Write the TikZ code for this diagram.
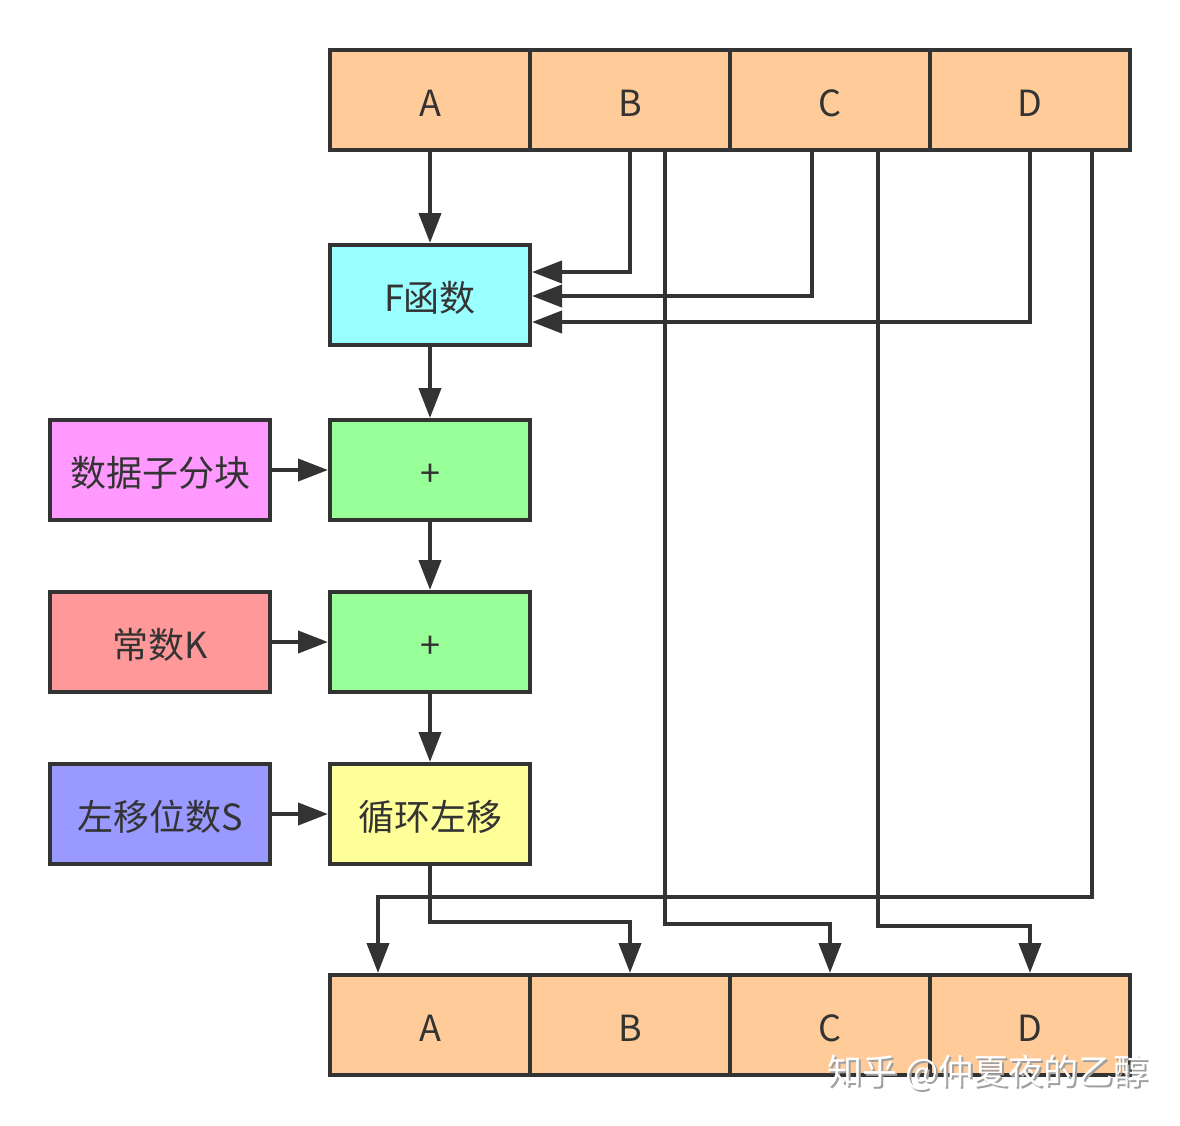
\documentclass[tikz,border=0pt]{standalone}
\usepackage{fontspec}
\setmainfont{Noto Sans CJK SC}
\usetikzlibrary{arrows.meta}
\definecolor{ln}{HTML}{333333}
\definecolor{cOrange}{HTML}{FFCC99}
\definecolor{cCyan}{HTML}{99FFFF}
\definecolor{cGreen}{HTML}{99FF99}
\definecolor{cPink}{HTML}{FF99FF}
\definecolor{cRed}{HTML}{FF9999}
\definecolor{cBlue}{HTML}{9999FF}
\definecolor{cYellow}{HTML}{FFFF99}
\definecolor{wmgray}{HTML}{A0A0A0}
\begin{document}
\begin{tikzpicture}[x=0.5pt,y=-0.5pt,
  box/.style={draw=ln, line width=2pt, minimum width=100pt, minimum height=50pt,
    inner sep=0pt, text=ln, font=\fontsize{18}{20}\selectfont,
    text height=16.4pt, text depth=0pt},
  widebox/.style={box, minimum width=110pt},
  conn/.style={draw=ln, line width=2pt, -{Triangle[length=15pt,width=11pt]}},
  wmtext/.style={font=\fontsize{17.5}{20}\selectfont, inner sep=0pt}
]
\useasboundingbox (0,0) rectangle (1180,1126);
\fill[white] (0,0) rectangle (1180,1126);

% top row
\node[box, fill=cOrange] (tA) at (430,100) {A};
\node[box, fill=cOrange] (tB) at (630,100) {B};
\node[box, fill=cOrange] (tC) at (830,100) {C};
\node[box, fill=cOrange] (tD) at (1030,100) {D};

% middle column
\node[box, fill=cCyan] (F) at (430,295) {F函数};
\node[box, fill=cGreen] (p1) at (430,470) {+};
\node[box, fill=cGreen] (p2) at (430,642) {+};
\node[box, fill=cYellow] (rot) at (430,814) {循环左移};

% left inputs
\node[widebox, fill=cPink] (dsb) at (160,470) {数据子分块};
\node[widebox, fill=cRed] (ck) at (160,642) {常数K};
\node[widebox, fill=cBlue] (ls) at (160,814) {左移位数S};

% bottom row
\node[box, fill=cOrange] (bA) at (430,1025) {A};
\node[box, fill=cOrange] (bB) at (630,1025) {B};
\node[box, fill=cOrange] (bC) at (830,1025) {C};
\node[box, fill=cOrange] (bD) at (1030,1025) {D};

% connectors into F
\draw[conn] (tA) -- (F);
\draw[conn] (tB.south) |- ([yshift=11.5pt]F.east);
\draw[conn] ([xshift=-9pt]tC.south) |- ([yshift=-0.5pt]F.east);
\draw[conn] (tD.south) |- ([yshift=-13.5pt]F.east);

% main chain
\draw[conn] (F) -- (p1);
\draw[conn] (p1) -- (p2);
\draw[conn] (p2) -- (rot);
\draw[conn] (dsb) -- (p1);
\draw[conn] (ck) -- (p2);
\draw[conn] (ls) -- (rot);

% outputs
\draw[conn] (rot.south) -- ++(0,56) -| (bB.north);
\draw[conn] ([xshift=17.5pt]tB.south) -- ++(0,772) -| (bC.north);
\draw[conn] ([xshift=24pt]tC.south) -- ++(0,774) -| (bD.north);
\draw[conn] ([xshift=31pt]tD.south) -- ++(0,745) -| ([xshift=-26pt]bA.north);

% watermark
\node[wmtext, text=wmgray] (wmshadow) at (990,1075) {知乎 @仲夏夜的乙醇};
\node[wmtext, text=white] (wm) at (988,1073) {知乎 @仲夏夜的乙醇};
\end{tikzpicture}
\end{document}
